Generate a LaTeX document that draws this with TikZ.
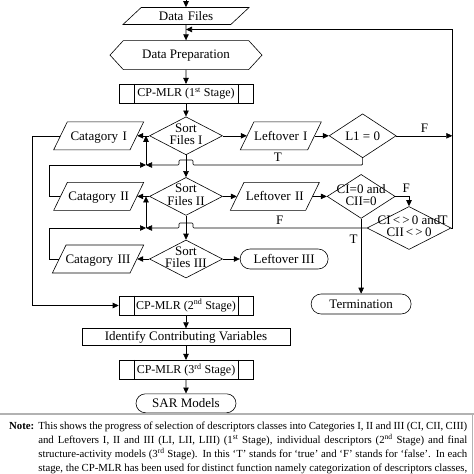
\documentclass[tikz,border=0pt]{standalone}
\usepackage{fontspec}
\setmainfont{Liberation Serif}
\usetikzlibrary{positioning, arrows.meta, calc, shapes.geometric, shapes.misc, shapes.symbols}
\renewcommand{\arraystretch}{0.92}
\newcommand{\two}[2]{\makebox[0pt]{\raisebox{1pt}{\begin{tabular}{@{}c@{}}#1\\#2\end{tabular}}}}
\newcommand{\stage}[1]{CP-MLR (#1 Stage)}
\newcommand{\nline}[1]{{\spaceskip=0.2em plus 0.3em minus 0.12em\relax\makebox[429pt][s]{#1}}}

\begin{document}
\begin{tikzpicture}[
    x=1pt, y=-1pt,
    every node/.style={font=\fontsize{13}{12}\selectfont},
    shapebox/.style={
        draw,
        inner sep=0pt,
        align=center
    },
    datafile/.style={shapebox, trapezium, trapezium left angle=43, trapezium right angle=137,
        text width=89.6pt, text height=12.8pt, text depth=4.2pt},
    io/.style={shapebox, trapezium, trapezium left angle=64, trapezium right angle=116,
        text width=#1, text height=18.3pt, text depth=9.7pt},
    io/.default=62.7pt,
    hexa/.style={shapebox, signal, signal to=east and west, signal pointer angle=95,
        minimum width=152pt, minimum height=29pt},
    proc/.style={shapebox, rectangle, minimum width=134pt, minimum height=19pt,
        font=\fontsize{12}{12}\selectfont,
        append after command={
            ([xshift=16pt]\tikzlastnode.north west) edge ([xshift=16pt]\tikzlastnode.south west)
            ([xshift=-15pt]\tikzlastnode.north east) edge ([xshift=-15pt]\tikzlastnode.south east)}},
    decide/.style={shapebox, diamond, minimum width=73pt, minimum height=38pt},
    term/.style={shapebox, rounded rectangle, minimum width=100pt, minimum height=20pt},
    semithick,
    >={Triangle[length=6pt, width=5.5pt]}
]
    \useasboundingbox (0,0) rectangle (474,474);

    % --- main column, stage 1 ---
    \node[datafile] (dfiles) at (186,16) {Data Files};
    \node[hexa, below=15.5pt of dfiles] (dprep) {Data Preparation};
    \node[proc, below=14pt of dprep] (cp1) {\stage{1\textsuperscript{st}}};

    % --- row I ---
    \node[decide, below=13pt of cp1] (sort1) {\two{Sort}{Files I}};
    \node[io, left=12pt of sort1] (cat1) {Catagory I};
    \node[io=53.7pt, right=24pt of sort1] (left1) {Leftover I};
    \node[decide, right=14pt of left1, minimum width=67pt, minimum height=44pt] (dec1) {L1 = 0};

    % --- row II ---
    \node[decide, below=22pt of sort1] (sort2) {\two{Sort}{Files II}};
    \node[io, left=12pt of sort2] (cat2) {Catagory II};
    \node[io=61.7pt, right=14pt of sort2] (left2) {Leftover II};
    \node[decide, right=14pt of left2, minimum width=68pt, minimum height=44pt] (dec2) {\two{CI=0 and}{CII=0}};
    \node[decide, minimum width=84pt, minimum height=43pt] (dec3) at (409,228) {\two{CI\,<\,>\,0 and}{CII\,<\,>\,0}};
    \node[term, below=75pt of dec2] (stop) {Termination};

    % --- row III ---
    \node[decide, below=24pt of sort2] (sort3) {\two{Sort}{Files III}};
    \node[io=64pt, left=12pt of sort3] (cat3) {\makebox[\linewidth]{Catagory III}};
    \node[term, right=17pt of sort3, minimum width=88pt] (left3) {Leftover III};

    % --- stages 2 and 3 ---
    \node[proc] (cp2) at (186,305.5) {\stage{2\textsuperscript{nd}}};
    \node[shapebox, rectangle, below=13pt of cp2, minimum width=208pt, minimum height=17pt] (ident) {Identify Contributing Variables};
    \node[proc, below=14pt of ident] (cp3) {\stage{3\textsuperscript{rd}}};
    \node[term, below=14pt of cp3, minimum height=19pt] (sar) {SAR Models};

    % --- helper points ---
    \coordinate (start) at (186,0);
    \coordinate (join) at ($(dfiles.south)!0.3!(dprep.north)$);
    \coordinate (j1) at (146,165);
    \coordinate (j2) at (146,228);
    \coordinate (ret) at ([xshift=1pt]dec3.east);

    % --- flow down the column ---
    \draw[->] (start) -- (dfiles);
    \draw[->] (dfiles) -- (dprep);
    \draw[->] (dprep) -- (cp1);
    \draw[->] (cp1) -- (sort1);
    \draw[->] (sort1) -- (sort2);
    \draw[->] (sort2) -- (sort3);
    \draw[->] (cp2) -- (ident);
    \draw[->] (ident) -- (cp3);
    \draw[->] (cp3) -- (sar);

    % --- rows ---
    \foreach \i in {1,2,3}
        \draw[->] (sort\i.west) -- (cat\i.east);
    \foreach \i in {1,2,3}
        \draw[->] (sort\i.east) -- (left\i.west);
    \draw[->] (left1.east) -- (dec1.west);
    \draw[->] (left2.east) -- (dec2.west);

    % --- decisions ---
    \draw[->] (dec1.east) -- (dec1.east -| ret) node[midway, above] {F};
    \draw[->] (dec3.east) -- (ret) node[pos=0, above left] {T} |- (join);
    \draw[->] (dec2.east) -| (dec3.north) node[pos=0.4, above] {F};
    \draw[->] (dec2.south) -- (stop.north) node[pos=0.27, left] {T};

    % --- back to the sort column (with jumps) ---
    \draw[->, rounded corners=1pt] (dec1.south) |- ($(sort1.south |- j1)+(7,0)$) node[pos=0.75, above] {T}
        -- ++(0,-5) -- ++(-14,0) -- ++(0,5) -- (j1);
    \draw[->, rounded corners=1pt] (dec3.west) -- ($(sort2.south |- j2)+(7,0)$) node[midway, above] {F}
        -- ++(0,-5) -- ++(-14,0) -- ++(0,5) -- (j2);
    \draw[->] (cat2.west) -- ++(-11,0) |- (j1);
    \draw[->] (cat3.west) -- ++(-10,0) |- (j2);
    \draw[->] (j1) -- (j1 |- sort1.west);
    \draw[->] (j2) -- (j2 |- sort2.west);
    \draw[->] (cat1.west) -- ++(-28,0) |- (cp2.west);

    % --- note ---
    \draw[gray!60, line width=1.5pt] (0,414) -- (474,414);
    \draw[gray!60, line width=1pt] (472,414) -- (472,474);
    \node[anchor=north west, inner sep=0pt, align=left,
          font=\fontsize{10.8}{14}\selectfont] (note) at (38,422) {%
        \llap{\bfseries Note:\hspace{4pt}}\nline{This shows the progress of selection of descriptors classes into Categories I, II and III (CI, CII, CIII)}\\
        \nline{and Leftovers I, II and III (LI, LII, LIII) (1\textsuperscript{st} Stage), individual descriptors (2\textsuperscript{nd} Stage) and final}\\
        \nline{structure-activity models (3\textsuperscript{rd} Stage). In this `T' stands for `true' and `F' stands for `false'. In each}\\
        \nline{stage, the CP-MLR has been used for distinct function namely categorization of descriptors classes,}};

\end{tikzpicture}
\end{document}
